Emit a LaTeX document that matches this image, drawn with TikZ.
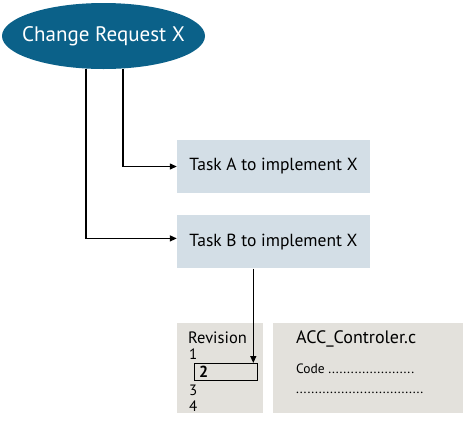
\documentclass[tikz,border=0pt]{standalone}
\usepackage{fontspec}
\setmainfont{PT Sans}
\usetikzlibrary{arrows.meta,positioning,shapes.geometric}
\definecolor{crblue}{HTML}{0B6189}
\definecolor{taskblue}{HTML}{D3DEE6}
\definecolor{filegrey}{HTML}{E3E1DC}

\begin{document}
\begin{tikzpicture}[
    x=1pt, y=-1pt,
    node distance=22pt and 9pt,
    request/.style={ellipse, fill=crblue, text=white, minimum width=203pt, minimum height=66pt, inner xsep=-20pt, inner ysep=0pt, font=\fontsize{21}{25}\selectfont},
    task/.style={fill=taskblue, minimum width=193pt, minimum height=53pt, inner sep=0pt, font=\fontsize{17.5}{21}\selectfont},
    filebox/.style={fill=filegrey, minimum height=90pt, inner sep=0pt},
    revbox/.style={draw, line width=1.3pt, minimum width=63pt, minimum height=17pt, inner sep=0pt},
    label/.style={anchor=base west, inner sep=0pt, font=\fontsize{16.5}{19}\selectfont},
    digit/.style={anchor=base west, inner sep=0pt, font=\fontsize{15}{18}\selectfont},
    small/.style={anchor=base west, inner sep=0pt, font=\fontsize{13.5}{16}\selectfont},
    arrow/.style={-{Triangle[length=7pt,width=6pt]}, line width=1.3pt}
]
\useasboundingbox (0,0) rectangle (474,424);

% Request and tasks
\node[request] (request) at (103.5,36) {Change Request X};
\node[task] (taskA) at (273.5,166.5) {Task A to implement X};
\node[task, below=22pt of taskA] (taskB) {Task B to implement X};

% File view
\node[filebox, minimum width=86pt, anchor=north west] (revs) at (177,323) {};
\node[filebox, minimum width=190pt, right=9pt of revs] (file) {};

\node[label] (revtitle) at (188,343) {Revision};
\node[digit] (rev1) at (189,359) {1};
\node[revbox, anchor=north west] (rev2box) at (194,363) {};
\node[digit, font=\fontsize{16}{19}\selectfont\bfseries] (rev2) at (199,377) {2};
\node[digit] (rev3) at (189,395) {3};
\node[digit] (rev4) at (189,411) {4};

\node[label, font=\fontsize{18}{21}\selectfont] (filename) at (296,343) {ACC\_Controler.c};
\node[small] (code1) at (296,373) {Code .......................};
\node[small] (code2) at (296,393) {..................................};

% Connectors
\draw[arrow] ([xshift=19.5pt]request.south) |- (taskA.west);
\draw[arrow] ([xshift=-17.5pt]request.south) |- ([yshift=3.5pt]taskB.west);
\draw[arrow] ([xshift=-5pt]rev2box.north east |- taskB.south) -- ([xshift=-5pt]rev2box.north east);

\end{tikzpicture}
\end{document}
